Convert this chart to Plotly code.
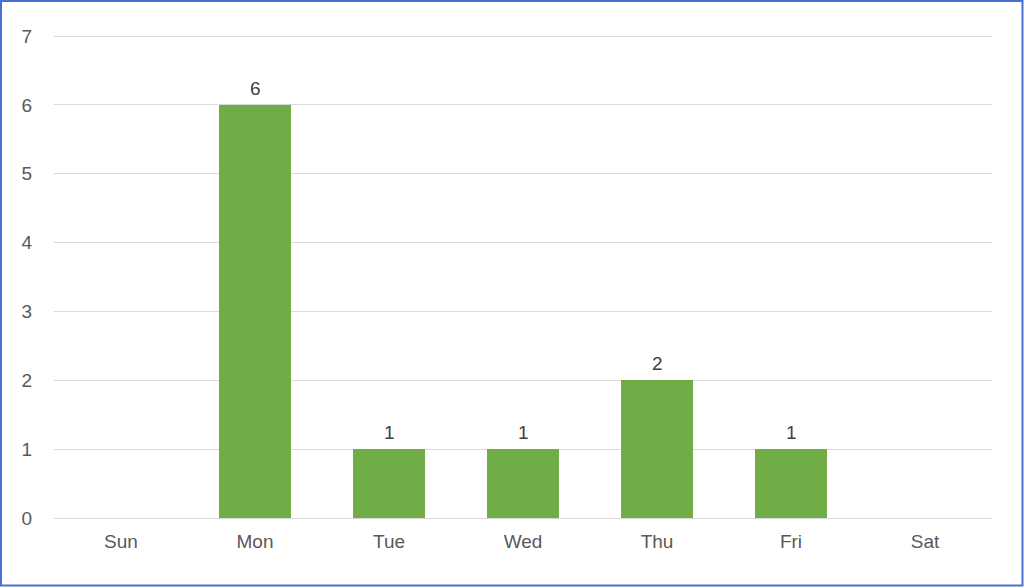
import plotly.graph_objects as go

days = ["Sun", "Mon", "Tue", "Wed", "Thu", "Fri", "Sat"]
counts = [0, 6, 1, 1, 2, 1, 0]
y_ticks = [0, 1, 2, 3, 4, 5, 6, 7]

W, H = 1024, 587
ml, mr, mt, mb = 54, 32, 34, 69
FONT = "Liberation Sans, Arial"

fig = go.Figure(go.Bar(
    x=days, y=counts,
    marker=dict(color="#70ad47", line=dict(width=0)),
    width=0.537,
))

for d, v in zip(days, counts):
    if v:
        fig.add_annotation(x=d, y=v, text=str(v), showarrow=False,
                           yanchor="bottom", yshift=4,
                           font=dict(size=19, color="#404040", family=FONT))

fig.update_layout(
    width=W, height=H,
    margin=dict(l=ml, r=mr, t=mt, b=mb),
    paper_bgcolor="white", plot_bgcolor="white",
    font=dict(family=FONT, size=19, color="#595959"),
    showlegend=False,
    xaxis=dict(showgrid=False, showline=False, ticks="outside", ticklen=6,
               tickcolor="rgba(0,0,0,0)", range=[-0.5, 6.5]),
    yaxis=dict(range=[0, 7.03], tickvals=y_ticks, showgrid=True, gridcolor="#d9d9d9",
               gridwidth=1, zeroline=True, zerolinecolor="#d9d9d9", zerolinewidth=1,
               ticks="outside", ticklen=17, tickcolor="rgba(0,0,0,0)", showline=False),
    bargap=0,
)

pw, ph = W - ml - mr, H - mt - mb
fig.add_shape(type="rect", xref="paper", yref="paper",
              x0=-(ml - 1) / pw, x1=1 + (mr - 1.5) / pw,
              y0=-(mb - 1.5) / ph, y1=1 + (mt - 1) / ph,
              line=dict(color="#4a6fd6", width=2), layer="above")

fig.write_html("out.html")
